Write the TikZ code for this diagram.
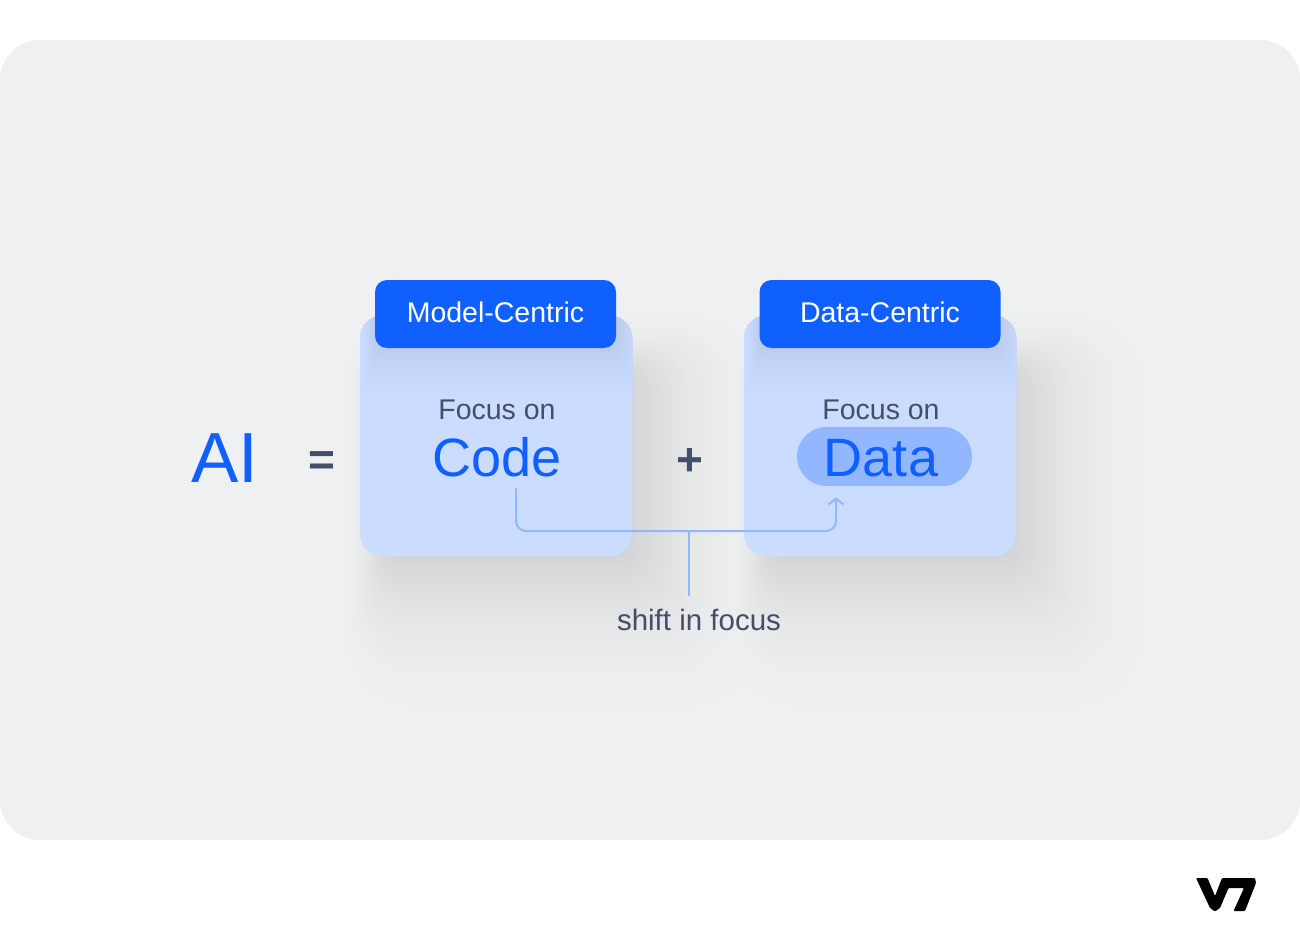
\documentclass[tikz,border=0pt]{standalone}
\usepackage{fontspec}
\setmainfont{Liberation Sans}
\usetikzlibrary{calc, arrows.meta, positioning}
\definecolor{panelGray}{HTML}{EFF0F1}
\definecolor{cardBlue}{HTML}{CADCFF}
\definecolor{mainBlue}{HTML}{1060FF}
\definecolor{pillBlue}{HTML}{93B7FF}
\definecolor{textSlate}{HTML}{434E68}
\tikzset{
    cardbox/.style={fill=cardBlue, rounded corners=22pt, minimum width=272pt, minimum height=240pt, inner sep=0pt},
    tabbox/.style={fill=mainBlue, text=white, rounded corners=12pt, minimum width=241pt, inner sep=0pt, text height=42pt, text depth=26pt, font=\fontsize{28.5}{32}\selectfont},
    pillbox/.style={fill=pillBlue, rounded corners=29.5pt, minimum width=175pt, minimum height=59pt, inner sep=0pt},
    slatetext/.style={text=textSlate, anchor=base, inner sep=0pt, font=\fontsize{28.5}{32}\selectfont},
    signtext/.style={text=textSlate, anchor=base, inner sep=0pt, font=\fontsize{46}{50}\selectfont\bfseries},
    bigtext/.style={text=mainBlue, anchor=base, inner sep=0pt},
    shiftline/.style={draw=pillBlue, line width=2pt},
}

\begin{document}
\begin{tikzpicture}[x=1pt, y=-1pt]
    \useasboundingbox (0,0) rectangle (1300,952);
    \fill[white] (0,0) rectangle (1300,952);
    \fill[panelGray, rounded corners=40pt] (0,40) rectangle (1300,840);

    % shadows
    \foreach \lvl in {70,69,...,0} {
        \pgfmathsetmacro\grow{\lvl/70}
        \pgfmathsetmacro\mixval{11.5*(1-\grow)^2.3}
        \foreach \cardx in {0,384}
            \fill[black!\mixval!panelGray, rounded corners=16pt+70pt*\grow]
                (\cardx+385-50*\grow,375-75*\grow) rectangle (\cardx+632+155*\grow,556+185*\grow);
    }

    % cards
    \node[cardbox] (modelcard) at (496,436) {};
    \node[cardbox] (datacard) at (880,436) {};
    \foreach \cardx in {0,384} {
        \begin{scope}
            \clip[rounded corners=22pt] (\cardx+360,316) rectangle (\cardx+632,556);
            \foreach \lvl in {30,29,...,0} {
                \pgfmathsetmacro\grow{\lvl/30}
                \pgfmathsetmacro\mixval{7.5*(1-\grow)^1.5}
                \fill[black!\mixval!cardBlue, rounded corners=12pt]
                    (\cardx+375-15*\grow,300) rectangle (\cardx+616+30*\grow,348+52*\grow);
            }
        \end{scope}
    }

    \node[tabbox] (modeltab) at (495.5,314) {Model-Centric};
    \node[tabbox] (datatab) at (880,314) {Data-Centric};

    % texts
    \node[bigtext, font=\fontsize{71}{80}\selectfont] (ai) at (225,482) {AI};
    \node[signtext] (equals) at (322,475) {=};
    \node[signtext] (plus) at (689.5,475) {+};
    \node[slatetext] (modelfocus) at (497,419) {Focus on};
    \node[slatetext] (datafocus) at (881,419) {Focus on};
    \node[bigtext, font=\fontsize{54}{60}\selectfont, text depth=12pt] (code) at (497,476) {Code};
    \node[pillbox] (datapill) at (884.5,456.5) {};
    \node[bigtext, font=\fontsize{54}{60}\selectfont] (datatext) at (881,476) {Data};
    \node[slatetext, font=\fontsize{29.5}{32}\selectfont] (shiftlabel) at (699,630) {shift in focus};

    % shift connector
    \coordinate (shiftfrom) at ([xshift=19pt]code.south);
    \coordinate (shiftto) at ([xshift=-48.5pt]datapill.south);
    \coordinate (shiftjoin) at (689,531);
    \coordinate (shiftfoot) at (689,596);
    \draw[shiftline, rounded corners=10pt, shorten >=11pt, -{Straight Barb[length=6pt, width=15pt]}] (shiftfrom) |- (shiftjoin) -| (shiftto);
    \draw[shiftline] (shiftjoin) -- (shiftfoot);

    % logo
    \fill[black, rounded corners=1pt] (1196,878) -- (1207.5,878) -- (1215,896) -- (1222,878) -- (1255,878) -- (1256,883) -- (1245,911) -- (1233.5,911) -- (1244,888) -- (1228.5,888) -- (1220,908) -- (1215,911.5) -- (1210,908) -- cycle;
\end{tikzpicture}
\end{document}
